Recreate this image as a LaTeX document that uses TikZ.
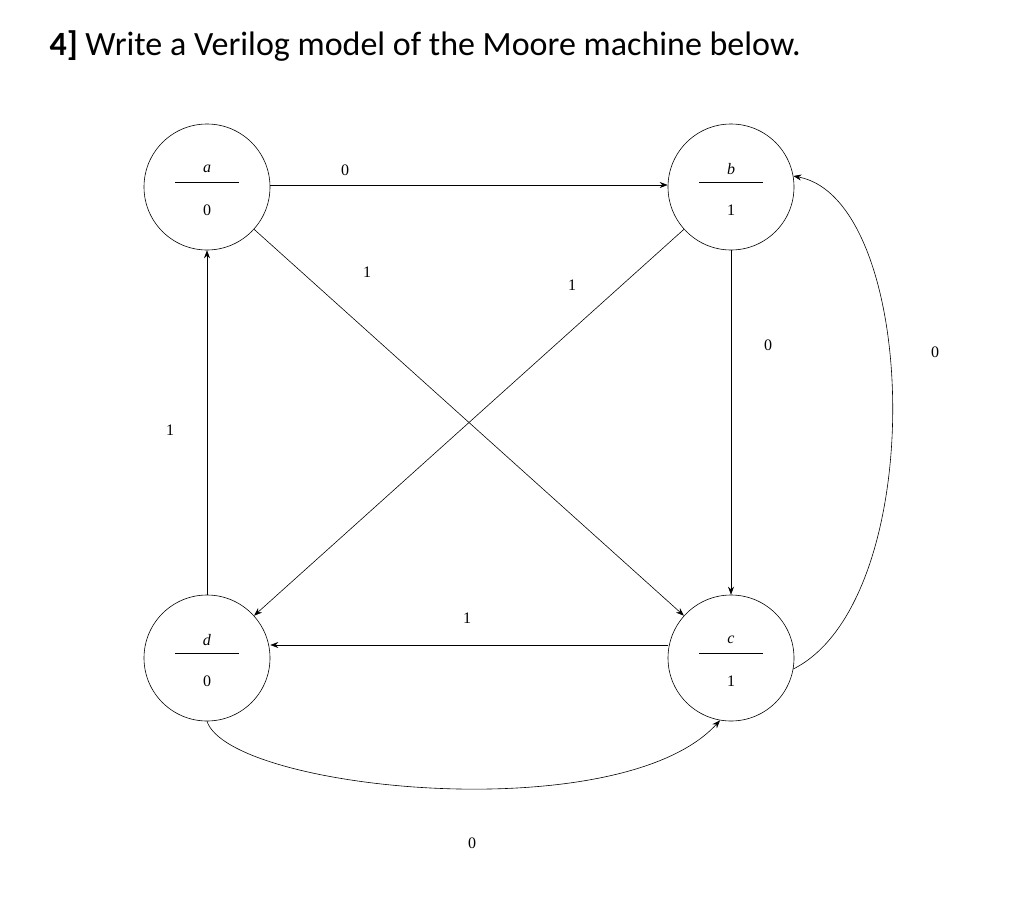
\documentclass[tikz,border=0pt]{standalone}
\usepackage{fontspec}
\setmainfont{Liberation Serif}
\newfontfamily\titlefont{Carlito}
\usetikzlibrary{arrows.meta}
\begin{document}
\begin{tikzpicture}[x=1pt,y=-1pt,
  st/.style={circle,draw,semithick,minimum size=126pt,inner sep=0pt},
  ed/.style={draw,semithick,-{Stealth[length=8pt,width=6pt]}},
  lb/.style={font=\fontsize{16}{18}\selectfont}]
\useasboundingbox (0,0) rectangle (1034,918);
\node[anchor=west,font=\titlefont\fontsize{34}{38}\selectfont] (title) at (46,46) {\textbf{4]} Write a Verilog model of the Moore machine below.};
\node[st] (a) at (207,187) {};
\node[st] (b) at (731,187) {};
\node[st] (c) at (731,658) {};
\node[st] (d) at (207,658) {};
\foreach \n/\l/\v in {a/a/0,b/b/1,c/c/1,d/d/0}{
  \draw[semithick] ([xshift=-32pt,yshift=5pt]\n.center) -- ([xshift=32pt,yshift=5pt]\n.center);
  \node[lb] at ([yshift=18pt]\n.center) {\textit{\l}};
  \node[lb] at ([yshift=-23pt]\n.center) {\v};
}
\draw[ed] (a.east|-0,185) -- (b.west|-0,185);
\draw[ed] (a) -- (c);
\draw[ed] (b) -- (d);
\draw[ed] (b) -- (c);
\draw[ed] (d) -- (a);
\draw[ed] (c.west|-0,645) -- (d.east|-0,645);
\draw[ed] (c.-10) .. controls (930,600) and (920,200) .. (b.10);
\draw[ed] (d.south) .. controls (230,790) and (620,830) .. (c.-100);
\node[lb] (l1) at (345,170) {0};
\node[lb] (l2) at (367,272) {1};
\node[lb] (l3) at (572,285) {1};
\node[lb] (l4) at (768,345) {0};
\node[lb] (l5) at (935,352) {0};
\node[lb] (l6) at (170,430) {1};
\node[lb] (l7) at (467,618) {1};
\node[lb] (l8) at (472,843) {0};
\end{tikzpicture}
\end{document}
